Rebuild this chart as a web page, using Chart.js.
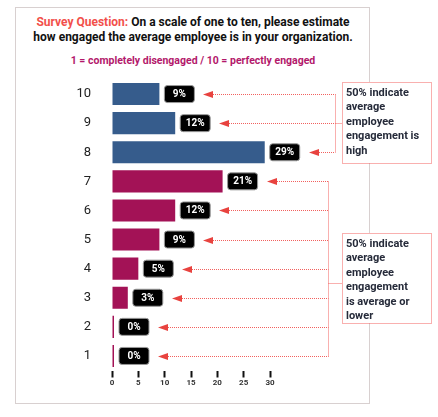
<!DOCTYPE html>
<html>
<head>
<meta charset="utf-8">
<script src="https://cdn.jsdelivr.net/npm/chart.js@4"></script>
<style>
  html, body { margin: 0; padding: 0; background: #fff; }
  body { width: 438px; height: 417px; position: relative; overflow: hidden; font-family: Roboto, "Noto Sans", sans-serif; }
  .card { position: absolute; left: 15px; top: 7px; width: 353px; height: 395px; border: 1.5px solid #d8d0d0; }
  .title { position: absolute; left: 15px; width: 356px; top: 15px; text-align: center; font-weight: 700; font-size: 12px; line-height: 15px; color: #111; }
  .title .q { color: #f2504b; }
  .subtitle { position: absolute; left: 15px; width: 356px; top: 54px; text-align: center; font-weight: 700; font-size: 10.5px; color: #b3186b; }
  .chart-wrap { position: absolute; left: 0; top: 0; width: 438px; height: 417px; }
</style>
</head>
<body>
<div class="card"></div>
<div class="title"><span class="q">Survey Question:</span> On a scale of one to ten, please estimate<br>how engaged the average employee is in your organization.</div>
<div class="subtitle">1 = completely disengaged / 10 = perfectly engaged</div>
<div class="chart-wrap"><canvas id="chart"></canvas></div>
<script>
const scores = ["10", "9", "8", "7", "6", "5", "4", "3", "2", "1"];
const percents = [9, 12, 29, 21, 12, 9, 5, 3, 0, 0];
const groups = ["high", "high", "high", "low", "low", "low", "low", "low", "low", "low"];
const xTicks = [0, 5, 10, 15, 20, 25, 30];
const highNote = ["50% indicate", "average", "employee", "engagement is", "high"];
const lowNote = ["50% indicate", "average", "employee", "engagement", "is average or", "lower"];

const BLUE = "#365c8c";
const MAGENTA = "#a31256";
const RED = "#e8433f";
const DOT_RED = "#f2605e";

// black value tags, dotted arrows and the two note boxes
const calloutPlugin = {
  id: "callouts",
  afterDatasetsDraw(chart) {
    const ctx = chart.ctx;
    const meta = chart.getDatasetMeta(0);
    const tips = [];

    ctx.save();
    meta.data.forEach((bar, i) => {
      const left = bar.x + 5;
      const top = bar.y - 8.5;
      ctx.fillStyle = "#000";
      ctx.strokeStyle = "#9a9a9a";
      ctx.lineWidth = 1;
      ctx.beginPath();
      ctx.roundRect(left, top, 30, 17, 3);
      ctx.fill();
      ctx.stroke();
      ctx.fillStyle = "#fff";
      ctx.font = "bold 10px Roboto";
      ctx.textAlign = "center";
      ctx.textBaseline = "middle";
      ctx.fillText(percents[i] + "%", left + 15, bar.y + 0.5);
      tips.push({ x: Math.round(left + 30 + 9), y: Math.round(bar.y) + 0.5 });
    });

    const dotted = () => {
      ctx.strokeStyle = DOT_RED;
      ctx.lineWidth = 1;
      ctx.setLineDash([1, 1]);
    };

    const drawArrow = (tip, toX) => {
      dotted();
      ctx.beginPath();
      ctx.moveTo(tip.x + 8, tip.y);
      ctx.lineTo(toX, tip.y);
      ctx.stroke();
      ctx.setLineDash([]);
      ctx.fillStyle = RED;
      ctx.beginPath();
      ctx.moveTo(tip.x, tip.y);
      ctx.lineTo(tip.x + 10, tip.y - 3.5);
      ctx.lineTo(tip.x + 10, tip.y + 3.5);
      ctx.closePath();
      ctx.fill();
    };

    const drawBracket = (rows, bx, midY, boxX) => {
      rows.forEach((i) => drawArrow(tips[i], bx));
      dotted();
      ctx.beginPath();
      ctx.moveTo(bx, tips[rows[0]].y);
      ctx.lineTo(bx, tips[rows[rows.length - 1]].y);
      ctx.moveTo(bx, midY);
      ctx.lineTo(boxX, midY);
      ctx.stroke();
      ctx.setLineDash([]);
    };

    const drawNote = (lines, x, y, w, h) => {
      ctx.fillStyle = "#fff";
      ctx.fillRect(x, y, w, h);
      dotted();
      ctx.strokeRect(x + 0.5, y + 0.5, w, h);
      ctx.setLineDash([]);
      ctx.fillStyle = "#262b3a";
      ctx.font = "bold 11px Roboto";
      ctx.textAlign = "left";
      ctx.textBaseline = "middle";
      lines.forEach((line, k) => ctx.fillText(line, x + 4, y + 11 + k * 14.5));
    };

    const high = groups.map((g, i) => (g === "high" ? i : -1)).filter((i) => i >= 0);
    const low = groups.map((g, i) => (g === "low" ? i : -1)).filter((i) => i >= 0);

    drawBracket(high, 335.5, tips[1].y, 342);
    drawBracket(low, 328.5, 283.5, 342);
    drawNote(highNote, 342, 82, 89, 81);
    drawNote(lowNote, 342, 233, 89, 90);
    ctx.restore();
  }
};

new Chart(document.getElementById("chart"), {
  type: "bar",
  plugins: [calloutPlugin],
  data: {
    labels: scores,
    datasets: [
      {
        data: percents,
        backgroundColor: groups.map((g) => (g === "high" ? BLUE : MAGENTA)),
        borderWidth: 0,
        minBarLength: 2,
        categoryPercentage: 1,
        barPercentage: 0.76
      }
    ]
  },
  options: {
    indexAxis: "y",
    responsive: true,
    maintainAspectRatio: false,
    animation: false,
    layout: {
      padding: { left: 0, top: 79.5, right: 168, bottom: 26.5 }
    },
    plugins: {
      legend: { display: false },
      tooltip: { enabled: false }
    },
    scales: {
      x: {
        min: 0,
        max: 30,
        afterFit(scale) {
          scale.height = 20;
        },
        afterBuildTicks(scale) {
          scale.ticks = xTicks.map((v) => ({ value: v }));
        },
        border: { display: false },
        grid: {
          drawOnChartArea: false,
          tickLength: 7,
          tickWidth: 2,
          tickColor: "#111"
        },
        ticks: {
          padding: 1,
          color: "#333",
          font: { family: "Roboto", size: 8, weight: "bold" }
        }
      },
      y: {
        afterFit(scale) {
          scale.width = 112;
        },
        border: { display: false },
        grid: { display: false },
        ticks: {
          padding: 13,
          color: "#222",
          font: { family: "Roboto", size: 13 }
        }
      }
    }
  }
});
</script>
</body>
</html>
